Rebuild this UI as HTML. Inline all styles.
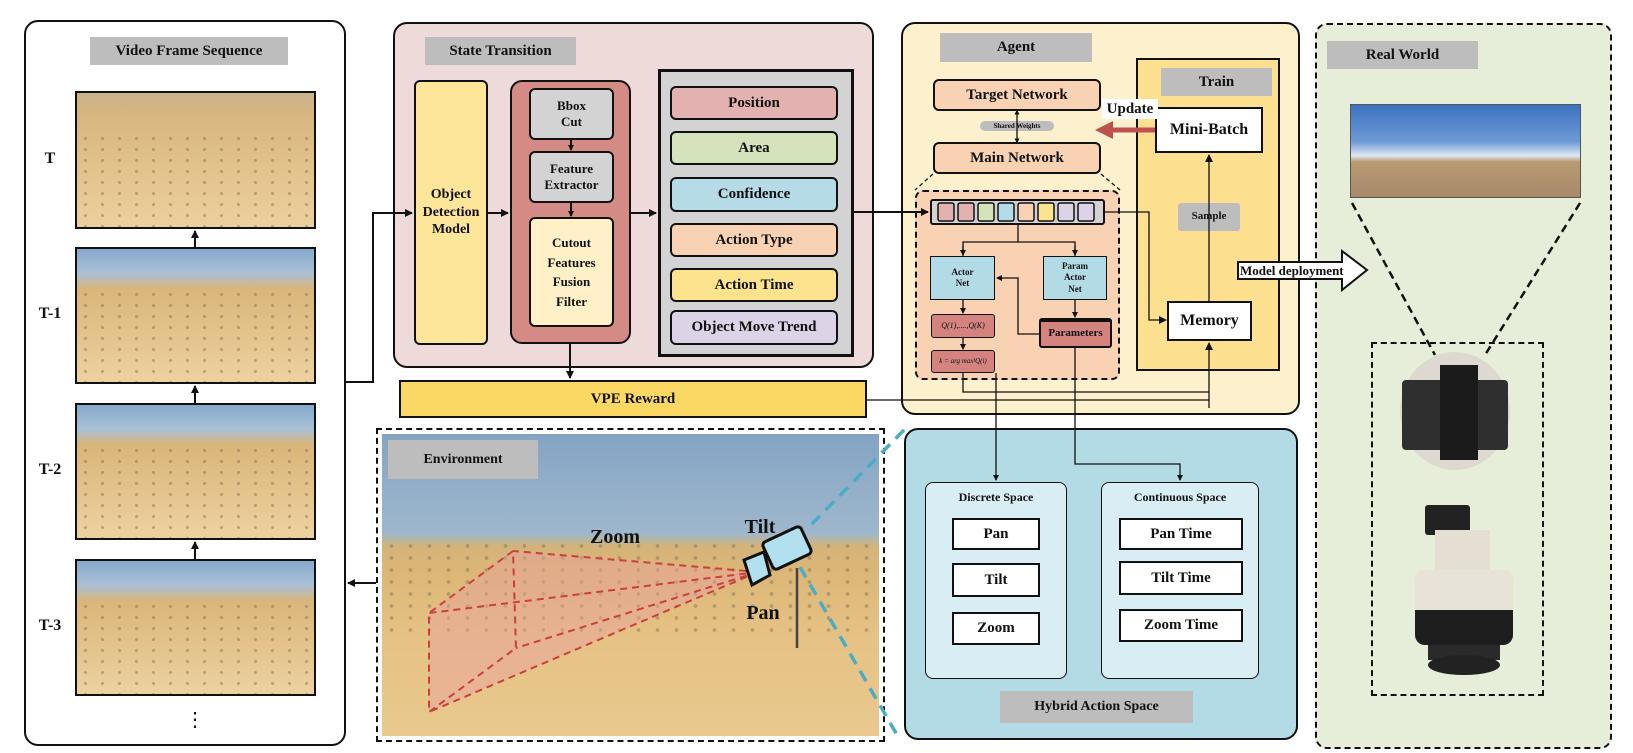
<!DOCTYPE html>
<html><head><meta charset="utf-8"><style>
body{margin:0;width:1633px;height:753px;background:#fff;position:relative;overflow:hidden;font-family:"Liberation Serif",serif;font-weight:bold;color:#111}
.a{position:absolute;box-sizing:border-box;display:flex;align-items:center;justify-content:center;text-align:center;line-height:1.25}
.t{background:#bdbdbd;font-size:15px}
.b{border:2px solid #111;border-radius:6px}
.fr{position:absolute;box-sizing:border-box;border:2px solid #111;background:linear-gradient(#86a8cc 0%,#a9c0d6 18%,#d9b57a 30%,#e3c189 60%,#edd2a0 100%);overflow:hidden}
.fr::after{content:"";position:absolute;left:0;right:0;bottom:0;top:30%;background-image:radial-gradient(circle,#6b6045 1.3px,transparent 1.8px);background-size:17px 11px;opacity:.4}
</style></head><body>
<div class="a" style="left:24px;top:20px;width:322px;height:726px;border:2px solid #111;border-radius:14px"></div>
<div class="a t" style="left:90px;top:37px;width:198px;height:28px">Video Frame Sequence</div>
<div class="fr" style="left:75px;top:91px;width:241px;height:138px;background:linear-gradient(#c9b48e 0%,#d6b580 15%,#e2c08a 50%,#ecd09c 100%)"></div>
<div class="fr" style="left:75px;top:247px;width:241px;height:137px"></div>
<div class="fr" style="left:75px;top:403px;width:241px;height:137px"></div>
<div class="fr" style="left:75px;top:559px;width:241px;height:137px"></div>
<div class="a" style="left:35px;top:148px;width:30px;height:22px;font-size:16px">T</div>
<div class="a" style="left:30px;top:303px;width:40px;height:22px;font-size:16px">T-1</div>
<div class="a" style="left:30px;top:459px;width:40px;height:22px;font-size:16px">T-2</div>
<div class="a" style="left:30px;top:615px;width:40px;height:22px;font-size:16px">T-3</div>
<div class="a" style="left:180px;top:705px;width:30px;height:30px;font-size:20px;font-weight:normal">⋮</div>

<div class="a" style="left:393px;top:22px;width:481px;height:346px;background:#efdada;border:2px solid #111;border-radius:14px"></div>
<div class="a t" style="left:425px;top:37px;width:151px;height:28px">State Transition</div>
<div class="a b" style="left:414px;top:80px;width:74px;height:265px;background:#fde59a;font-size:14px">Object<br>Detection<br>Model</div>
<div class="a" style="left:510px;top:80px;width:121px;height:264px;background:#d48b85;border:2px solid #111;border-radius:12px"></div>
<div class="a b" style="left:529px;top:88px;width:85px;height:52px;background:#d3d3d3;font-size:13px">Bbox<br>Cut</div>
<div class="a b" style="left:529px;top:151px;width:85px;height:52px;background:#d3d3d3;font-size:13px">Feature<br>Extractor</div>
<div class="a b" style="left:529px;top:217px;width:85px;height:110px;background:#fff0c8;font-size:13px;line-height:1.5">Cutout<br>Features<br>Fusion<br>Filter</div>
<div class="a" style="left:658px;top:69px;width:196px;height:288px;background:#d3d3d3;border:3px solid #111"></div>
<div class="a b" style="left:670px;top:86px;width:168px;height:34px;background:#e3b2b0;font-size:15px">Position</div>
<div class="a b" style="left:670px;top:131px;width:168px;height:34px;background:#d5e3bd;font-size:15px">Area</div>
<div class="a b" style="left:670px;top:177px;width:168px;height:35px;background:#b5dbe6;font-size:15px">Confidence</div>
<div class="a b" style="left:670px;top:223px;width:168px;height:34px;background:#f9d2b4;font-size:15px">Action Type</div>
<div class="a b" style="left:670px;top:268px;width:168px;height:34px;background:#fde38e;font-size:15px">Action Time</div>
<div class="a b" style="left:670px;top:310px;width:168px;height:35px;background:#dcd3e6;font-size:15px">Object Move Trend</div>
<div class="a" style="left:399px;top:380px;width:468px;height:38px;background:#fbd764;border:2px solid #111;font-size:15px">VPE Reward</div>

<div class="a" style="left:901px;top:22px;width:399px;height:393px;background:#fdf0cc;border:2px solid #111;border-radius:14px"></div>
<div class="a t" style="left:940px;top:33px;width:152px;height:29px;font-size:15px">Agent</div>
<div class="a" style="left:1136px;top:58px;width:144px;height:313px;background:#fcdf8f;border:2px solid #111"></div>
<div class="a t" style="left:1161px;top:68px;width:111px;height:28px">Train</div>
<div class="a" style="left:1155px;top:107px;width:108px;height:46px;background:#fff;border:2px solid #111;font-size:16px">Mini-Batch</div>
<div class="a" style="left:1102px;top:99px;width:56px;height:20px;background:#fff;font-size:15px">Update</div>
<div class="a t" style="left:1178px;top:203px;width:62px;height:28px;font-size:11px;border-radius:3px">Sample</div>
<div class="a" style="left:1167px;top:301px;width:85px;height:40px;background:#fff;border:2px solid #111;font-size:16px">Memory</div>
<div class="a b" style="left:933px;top:79px;width:168px;height:32px;background:#f9d2b4;font-size:15px">Target Network</div>
<div class="a b" style="left:933px;top:142px;width:168px;height:32px;background:#f9d2b4;font-size:15px">Main Network</div>
<div class="a" style="left:980px;top:121px;width:74px;height:10px;background:#bdbdbd;border-radius:5px;font-size:7px">Shared Weights</div>
<div class="a" style="left:915px;top:190px;width:205px;height:190px;background:#f9d2b4;border:2px dashed #111;border-radius:8px"></div>
<div class="a" style="left:930px;top:199px;width:175px;height:26px;background:#d3d3d3;border:2px solid #111;border-radius:3px"></div>
<div class="a" style="left:930px;top:256px;width:65px;height:44px;background:#b3dbe6;border:1.5px solid #111;font-size:9px">Actor<br>Net</div>
<div class="a" style="left:1043px;top:256px;width:64px;height:44px;background:#b3dbe6;border:1.5px solid #111;font-size:9px">Param<br>Actor<br>Net</div>
<div class="a" style="left:931px;top:314px;width:64px;height:24px;background:#d4837f;border:1.5px solid #111;border-radius:3px;font-size:8px;font-style:italic;font-weight:normal">Q(1),....,Q(K)</div>
<div class="a" style="left:931px;top:350px;width:64px;height:23px;background:#d4837f;border:1.5px solid #111;border-radius:3px;font-size:7px;font-style:italic;font-weight:normal">k = arg max<sub>i</sub> Q(i)</div>
<div class="a" style="left:1039px;top:318px;width:73px;height:30px;background:#d4837f;border:2px solid #111;border-top-width:4px;border-radius:3px;font-size:11px">Parameters</div>

<div class="a" style="left:904px;top:428px;width:394px;height:312px;background:#b3dbe6;border:2px solid #111;border-radius:14px"></div>
<div class="a" style="left:925px;top:482px;width:142px;height:197px;background:#d9eef4;border:1.5px solid #111;border-radius:8px"></div>
<div class="a" style="left:1101px;top:482px;width:158px;height:197px;background:#d9eef4;border:1.5px solid #111;border-radius:8px"></div>
<div class="a" style="left:925px;top:488px;width:142px;height:18px;font-size:12px">Discrete Space</div>
<div class="a" style="left:1101px;top:488px;width:158px;height:18px;font-size:12px">Continuous Space</div>
<div class="a" style="left:952px;top:518px;width:88px;height:32px;background:#fff;border:2px solid #111;font-size:15px">Pan</div>
<div class="a" style="left:952px;top:563px;width:88px;height:34px;background:#fff;border:2px solid #111;font-size:15px">Tilt</div>
<div class="a" style="left:952px;top:612px;width:88px;height:33px;background:#fff;border:2px solid #111;font-size:15px">Zoom</div>
<div class="a" style="left:1119px;top:518px;width:124px;height:32px;background:#fff;border:2px solid #111;font-size:15px">Pan Time</div>
<div class="a" style="left:1119px;top:561px;width:124px;height:34px;background:#fff;border:2px solid #111;font-size:15px">Tilt Time</div>
<div class="a" style="left:1119px;top:609px;width:124px;height:33px;background:#fff;border:2px solid #111;font-size:15px">Zoom Time</div>
<div class="a t" style="left:1000px;top:691px;width:193px;height:32px;font-size:14px">Hybrid Action Space</div>

<div class="a" style="left:376px;top:428px;width:509px;height:314px;border:2.5px dashed #111"></div>
<div class="a" style="left:382px;top:434px;width:497px;height:302px;background:linear-gradient(#84a4c4 0%,#9fb7cc 33%,#d4b37a 37%,#dbb676 45%,#e5c184 65%,#e9c98e 100%)"></div>
<div class="a" style="left:382px;top:540px;width:497px;height:100px;background-image:radial-gradient(circle,#5f5a40 1.6px,transparent 2.2px);background-size:19px 12px;opacity:.35"></div>
<div class="a t" style="left:388px;top:440px;width:150px;height:39px;font-size:14px">Environment</div>
<div class="a" style="left:580px;top:522px;width:70px;height:30px;font-size:20px">Zoom</div>
<div class="a" style="left:735px;top:512px;width:50px;height:30px;font-size:20px">Tilt</div>
<div class="a" style="left:738px;top:598px;width:50px;height:30px;font-size:20px">Pan</div>

<div class="a" style="left:1315px;top:23px;width:297px;height:726px;background:#e6eed9;border:2.5px dashed #111;border-radius:12px"></div>
<div class="a t" style="left:1327px;top:41px;width:151px;height:28px">Real World</div>
<div class="a" style="left:1350px;top:104px;width:231px;height:94px;border:1px solid #555;background:linear-gradient(#3d72c0 0%,#6e9ad6 40%,#dfe8f2 55%,#b89a72 62%,#a8896a 100%)"></div>
<div class="a" style="left:1371px;top:342px;width:173px;height:354px;border:2px dashed #111"></div>
<div class="a" style="left:1400px;top:352px;width:110px;height:118px;background:#ddd9d0;border-radius:50%"></div>
<div class="a" style="left:1402px;top:380px;width:106px;height:70px;background:#2f2f2f;border-radius:4px"></div>
<div class="a" style="left:1440px;top:365px;width:38px;height:95px;background:#1b1b1b"></div>
<div class="a" style="left:1425px;top:505px;width:45px;height:30px;background:#222;border-radius:3px"></div>
<div class="a" style="left:1435px;top:530px;width:55px;height:45px;background:#e4dfd2"></div>
<div class="a" style="left:1415px;top:570px;width:98px;height:45px;background:#e8e3d8;border-radius:8px"></div>
<div class="a" style="left:1415px;top:610px;width:98px;height:35px;background:#1e1e1e;border-radius:0 0 10px 10px"></div>
<div class="a" style="left:1428px;top:645px;width:72px;height:15px;background:#2a2a2a"></div>
<div class="a" style="left:1428px;top:655px;width:72px;height:20px;background:#222;border-radius:50%"></div>

<svg width="1633" height="753" style="position:absolute;left:0;top:0" xmlns="http://www.w3.org/2000/svg">
<defs>
<marker id="ar" markerWidth="8" markerHeight="8" refX="7" refY="4" orient="auto" markerUnits="userSpaceOnUse"><path d="M0,0 L8,4 L0,8 z" fill="#111"/></marker>
<marker id="ar2" markerWidth="6" markerHeight="6" refX="5" refY="3" orient="auto" markerUnits="userSpaceOnUse"><path d="M0,0 L6,3 L0,6 z" fill="#111"/></marker>
<marker id="ar3" markerWidth="5" markerHeight="5" refX="2.5" refY="2.5" orient="auto-start-reverse" markerUnits="userSpaceOnUse"><path d="M0,0 L5,2.5 L0,5 z" fill="#111"/></marker>
</defs>
<g stroke="#111" stroke-width="2" fill="none">
<line x1="195" y1="247" x2="195" y2="231" marker-end="url(#ar)"/>
<line x1="195" y1="403" x2="195" y2="386" marker-end="url(#ar)"/>
<line x1="195" y1="559" x2="195" y2="542" marker-end="url(#ar)"/>
<polyline points="346,382 373,382 373,213 412,213" marker-end="url(#ar)"/>
<line x1="488" y1="213" x2="508" y2="213" marker-end="url(#ar)"/>
<line x1="571" y1="140" x2="571" y2="150" marker-end="url(#ar2)"/>
<line x1="571" y1="203" x2="571" y2="216" marker-end="url(#ar2)"/>
<line x1="631" y1="213" x2="656" y2="213" marker-end="url(#ar)"/>
<line x1="570" y1="344" x2="570" y2="378" marker-end="url(#ar)"/>
<line x1="854" y1="212" x2="928" y2="212" marker-end="url(#ar)"/>
<line x1="376" y1="583" x2="348" y2="583" marker-end="url(#ar)"/>
</g>
<g stroke="#111" stroke-width="1.3" fill="none">
<line x1="1017" y1="112" x2="1017" y2="141" marker-start="url(#ar3)" marker-end="url(#ar3)"/>
<line x1="1018" y1="225" x2="1018" y2="242"/>
<polyline points="963,256 963,242 1075,242 1075,256"/>
<line x1="963" y1="246" x2="963" y2="255" marker-end="url(#ar2)"/>
<line x1="1075" y1="246" x2="1075" y2="255" marker-end="url(#ar2)"/>
<line x1="963" y1="300" x2="963" y2="313" marker-end="url(#ar2)"/>
<line x1="963" y1="338" x2="963" y2="349" marker-end="url(#ar2)"/>
<line x1="1075" y1="300" x2="1075" y2="317" marker-end="url(#ar2)"/>
<polyline points="1039,334 1018,334 1018,278 997,278" marker-end="url(#ar2)"/>
<polyline points="1105,212 1149,212 1149,320 1166,320" marker-end="url(#ar)"/>
<line x1="1209" y1="301" x2="1209" y2="155" marker-end="url(#ar)"/>
<polyline points="963,373 963,392 1209,392"/>
<line x1="867" y1="400" x2="1209" y2="400"/>
<line x1="1209" y1="408" x2="1209" y2="343" marker-end="url(#ar)"/>
<line x1="996" y1="373" x2="996" y2="480" marker-end="url(#ar2)"/>
<polyline points="1075,348 1075,464 1180,464 1180,480" marker-end="url(#ar2)"/>
<polyline points="933,174 915,190" stroke-dasharray="4,3"/>
<polyline points="1101,174 1120,190" stroke-dasharray="4,3"/>
</g>
<g stroke="#111" stroke-width="1.5">
<rect x="938" y="203" width="16" height="18" rx="2" fill="#e3b2b0"/>
<rect x="958" y="203" width="16" height="18" rx="2" fill="#e3b2b0"/>
<rect x="978" y="203" width="16" height="18" rx="2" fill="#d5e3bd"/>
<rect x="998" y="203" width="16" height="18" rx="2" fill="#b5dbe6"/>
<rect x="1018" y="203" width="16" height="18" rx="2" fill="#f9d2b4"/>
<rect x="1038" y="203" width="16" height="18" rx="2" fill="#fde38e"/>
<rect x="1058" y="203" width="16" height="18" rx="2" fill="#dcd3e6"/>
<rect x="1078" y="203" width="16" height="18" rx="2" fill="#dcd3e6"/>
</g>
<line x1="1155" y1="130" x2="1110" y2="130" stroke="#c0504d" stroke-width="5"/>
<path d="M1095,130 L1113,121 L1113,139 z" fill="#c0504d"/>
<path d="M1238,262 L1342,262 L1342,251 L1367,270 L1342,290 L1342,279 L1238,279 z" fill="#fff" stroke="#111" stroke-width="2"/>
<text x="1240" y="275" font-family="Liberation Serif" font-weight="bold" font-size="13" fill="#111">Model deployment</text>
<g stroke="#111" stroke-width="2.5" stroke-dasharray="8,5">
<line x1="1352" y1="203" x2="1435" y2="355"/>
<line x1="1580" y1="203" x2="1485" y2="355"/>
</g>
<path d="M758,572 L513,551 L429,613 L429,712 Z" fill="#e8a0a0" fill-opacity=".45"/>
<g stroke="#c9403c" stroke-width="2" stroke-dasharray="7,5" fill="none">
<line x1="758" y1="572" x2="513" y2="551"/>
<line x1="758" y1="572" x2="429" y2="613"/>
<line x1="758" y1="572" x2="429" y2="712"/>
<line x1="758" y1="572" x2="516" y2="648"/>
<polyline points="513,551 429,613 429,712 516,648 513,551"/>
</g>
<g stroke="#4bacc6" stroke-width="3.5" stroke-dasharray="12,8" fill="none">
<line x1="904" y1="430" x2="806" y2="530"/>
<line x1="800" y1="567" x2="900" y2="740"/>
</g>
<line x1="797" y1="568" x2="797" y2="648" stroke="#444" stroke-width="2.5"/>
<g stroke="#111" stroke-width="3" fill="#b3e0ee">
<rect x="766" y="533" width="42" height="30" rx="4" transform="rotate(-25 787 548)"/>
<path d="M744,560 L764,552 L770,575 L752,585 Z"/>
</g>
</svg>
</body></html>
